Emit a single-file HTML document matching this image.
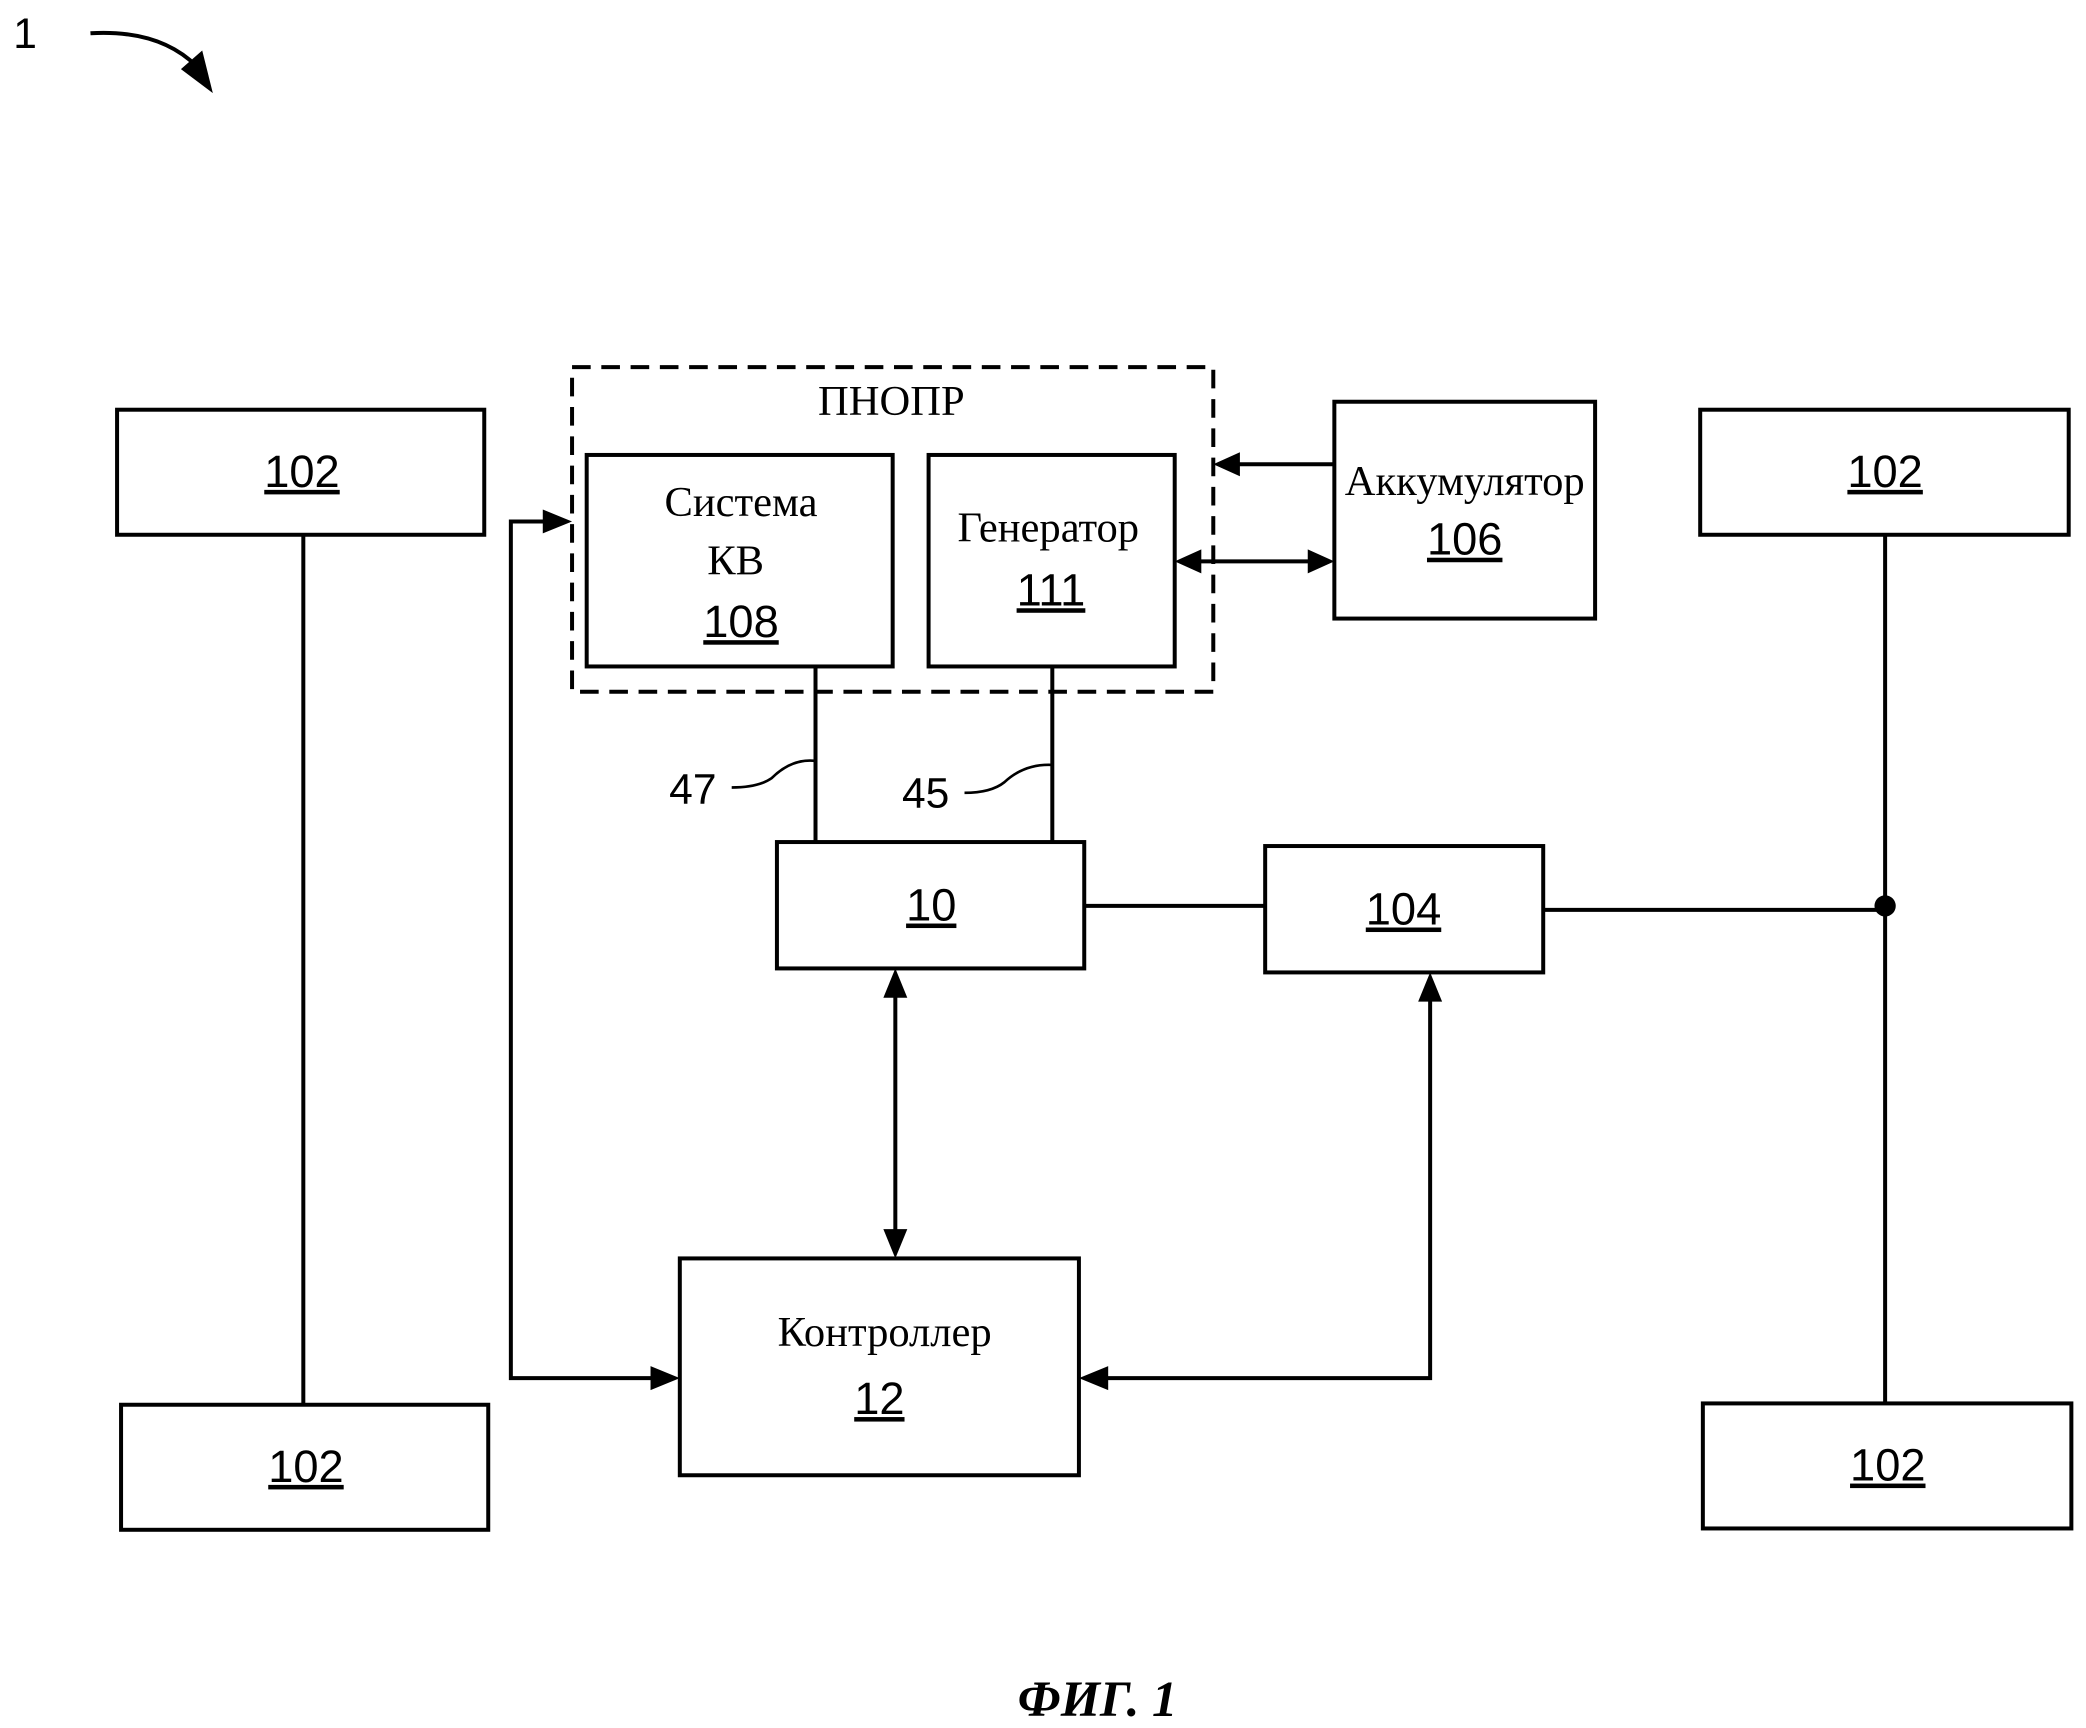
<!DOCTYPE html>
<html><head><meta charset="utf-8"><style>html,body{margin:0;padding:0;background:#fff}svg{display:block}</style></head>
<body>
<svg width="2086" height="1728" viewBox="0 0 1568 1299" preserveAspectRatio="none" xmlns="http://www.w3.org/2000/svg">
<g fill="none" stroke="#000" stroke-width="3">
<rect x="88" y="308" width="276" height="94"/>
<rect x="91" y="1056" width="276" height="94"/>
<rect x="1278" y="308" width="277" height="94"/>
<rect x="1280" y="1055" width="277" height="94"/>
<line x1="228" y1="402" x2="228" y2="1056"/>
<line x1="1417" y1="402" x2="1417" y2="1055"/>
<rect x="430" y="276" width="482" height="244" stroke-dasharray="14,8"/>
<rect x="441" y="342" width="230" height="159"/>
<rect x="698" y="342" width="185" height="159"/>
<rect x="1003" y="302" width="196" height="163"/>
<line x1="1003" y1="349" x2="930" y2="349"/>
<line x1="902" y1="422" x2="984" y2="422"/>
<line x1="613" y1="501" x2="613" y2="633"/>
<line x1="791" y1="501" x2="791" y2="633"/>
<rect x="584" y="633" width="231" height="95"/>
<line x1="815" y1="681" x2="951" y2="681"/>
<rect x="951" y="636" width="209" height="95"/>
<line x1="1160" y1="684" x2="1417" y2="684"/>
<line x1="673" y1="748" x2="673" y2="926"/>
<rect x="511" y="946" width="300" height="163"/>
<polyline points="410,392 384,392 384,1036 490,1036"/>
<polyline points="832,1036 1075,1036 1075,752"/>
<path d="M68 25 Q120 22 148 50"/>
<path d="M550 592 Q570 592 580 585 Q595 570 613 572" stroke-width="2"/>
<path d="M725 596 Q745 596 755 588 Q770 574 791 575" stroke-width="2"/>
</g>
<g fill="#000">
<circle cx="1417" cy="681" r="8"/>
<polygon points="912,349 932,340 932,358"/>
<polygon points="883,422 903,413 903,431"/>
<polygon points="1003,422 983,413 983,431"/>
<polygon points="673,728 664,750 682,750"/>
<polygon points="673,946 664,924 682,924"/>
<polygon points="430,392 408,383 408,401"/>
<polygon points="511,1036 489,1027 489,1045"/>
<polygon points="811,1036 833,1027 833,1045"/>
<polygon points="1075,731 1066,753 1084,753"/>
<polygon points="160,70 136,52 152,38"/>
</g>
<g font-family="Liberation Sans, sans-serif" font-size="34" text-anchor="middle" text-decoration="underline">
<text x="227" y="366">102</text>
<text x="230" y="1114">102</text>
<text x="1417" y="366">102</text>
<text x="1419" y="1113">102</text>
<text x="557" y="479">108</text>
<text x="790" y="455">111</text>
<text x="1101" y="417">106</text>
<text x="700" y="692">10</text>
<text x="1055" y="695">104</text>
<text x="661" y="1063">12</text>
</g>
<g font-family="Liberation Sans, sans-serif" font-size="32">
<text x="10" y="36">1</text>
<text x="503" y="604">47</text>
<text x="678" y="607">45</text>
</g>
<g font-family="Liberation Serif, serif" font-size="32" text-anchor="middle">
<text x="557" y="388">Система</text>
<text x="553" y="432">КВ</text>
<text x="788" y="407">Генератор</text>
<text x="1101" y="372">Аккумулятор</text>
<text x="665" y="1012">Контроллер</text>
<text x="670" y="312">ПНОПР</text>
</g>
<text x="825" y="1290" font-family="Liberation Serif, serif" font-size="38" font-weight="bold" font-style="italic" text-anchor="middle">ФИГ. 1</text>
</svg>
</body></html>
